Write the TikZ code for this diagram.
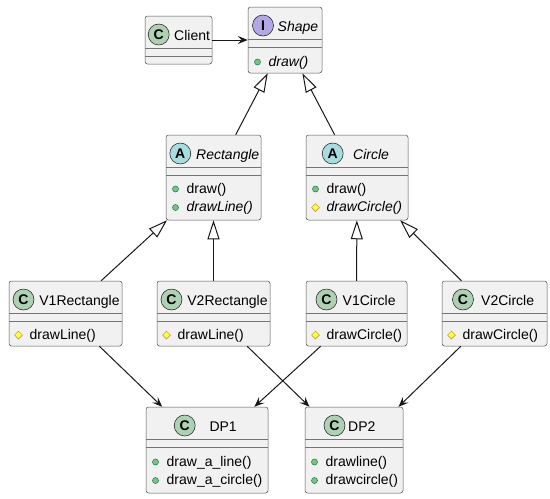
\documentclass[tikz,border=0pt]{standalone}
\usepackage{fontspec}
\setmainfont{Liberation Sans}
\usetikzlibrary{arrows.meta, shapes.geometric}

\definecolor{linec}{HTML}{181818}
\definecolor{boxc}{HTML}{F1F1F1}
\definecolor{cfill}{HTML}{ADD1B2}
\definecolor{afill}{HTML}{A9DCDF}
\definecolor{ifill}{HTML}{B4A7E5}
\definecolor{pubfill}{HTML}{84BE84}
\definecolor{publine}{HTML}{038048}
\definecolor{protfill}{HTML}{FFFF44}
\definecolor{protline}{HTML}{B38D22}

\tikzset{
  classbox/.style={draw=linec!75, fill=boxc, line width=.5pt, rounded corners=2.5pt, inner sep=0pt},
  sepline/.style={draw=linec!60, line width=.5pt},
  icon/.style={circle, draw=linec, line width=.5pt, minimum size=21pt, inner sep=0pt,
    font=\fontsize{14}{14}\selectfont\bfseries},
  cicon/.style={icon, fill=cfill, node contents={C}},
  aicon/.style={icon, fill=afill, node contents={A}},
  iicon/.style={icon, fill=ifill, node contents={I}},
  classname/.style={inner sep=0pt, font=\fontsize{14}{16}\selectfont},
  membertext/.style={inner sep=0pt, font=\fontsize{14}{16}\selectfont},
  pub/.style={circle, draw=publine, fill=pubfill, minimum size=6pt, inner sep=0pt, line width=.5pt},
  prot/.style={diamond, draw=protline, fill=protfill, minimum size=8pt, inner sep=0pt, line width=.5pt},
  assoc/.style={draw=linec, line width=1pt, -{Stealth[length=10pt,width=8pt,inset=4pt]}},
  inherit/.style={draw=linec, line width=1pt, -{Triangle[length=19pt,width=12pt,fill=white]}},
}

% #1 id, #2-#5 left top right bottom, #6 icon, #7 icon x, #8 name x, #9 name
\newcommand{\umlclass}[9]{%
  \node[classbox, minimum width={#4-#2}, minimum height={#5-#3}] (#1) at ({(#2+#4)/2},{(#3+#5)/2}) {};
  \draw[sepline] (#2,#3+32) -- (#4,#3+32);
  \draw[sepline] (#2,#3+40) -- (#4,#3+40);
  \node (#1-icon) at (#7,#3+18.5) [#6];
  \node[classname, anchor=base west] (#1-name) at (#8,#3+24) {#9};
}
% #1 id, #2 pub/prot, #3 box left, #4 row y, #5 text
\newcommand{\umlmember}[5]{%
  \node[#2] (#1-mark) at (#3+9.5,#4) {};
  \node[membertext, anchor=base west] (#1) at (#3+20.5,#4+4) {#5};
}

\begin{document}
\begin{tikzpicture}[x=1pt, y=-1pt]
\useasboundingbox (0,0) rectangle (550,499);

\umlclass{client}{145}{16}{212}{64}{cicon}{158.7}{174}{Client}
\umlclass{shape}{248}{7}{322}{73}{iicon}{263}{277.5}{\itshape Shape}
\umlmember{shape-draw}{pub}{248}{62}{\itshape draw()}

\umlclass{rectangle}{166}{135}{261}{220}{aicon}{180.3}{196}{\itshape Rectangle}
\umlmember{rectangle-draw}{pub}{166}{189}{draw()}
\umlmember{rectangle-line}{pub}{166}{207.5}{\itshape drawLine()}
\umlclass{circle}{306}{135}{408}{220}{aicon}{332.7}{353}{\itshape Circle}
\umlmember{circle-draw}{pub}{306}{189}{draw()}
\umlmember{circle-circ}{prot}{306}{207.5}{\itshape drawCircle()}

\umlclass{v1rect}{9}{281}{122}{346}{cicon}{23.5}{39.2}{V1Rectangle}
\umlmember{v1rect-line}{prot}{9}{335}{drawLine()}
\umlclass{v2rect}{157}{281}{270}{346}{cicon}{171.5}{187.2}{V2Rectangle}
\umlmember{v2rect-line}{prot}{157}{335}{drawLine()}
\umlclass{v1circle}{306}{281}{407}{346}{cicon}{326.5}{342.5}{V1Circle}
\umlmember{v1circle-circ}{prot}{306}{335}{drawCircle()}
\umlclass{v2circle}{442}{281}{547}{346}{cicon}{463}{481}{V2Circle}
\umlmember{v2circle-circ}{prot}{442}{335}{drawCircle()}

\umlclass{dp1}{146}{407}{268}{493}{cicon}{184.7}{209.3}{DP1}
\umlmember{dp1-line}{pub}{146}{462}{draw\_a\_line()}
\umlmember{dp1-circ}{pub}{146}{480.5}{draw\_a\_circle()}
\umlclass{dp2}{305}{407}{403}{493}{cicon}{334.5}{348}{DP2}
\umlmember{dp2-line}{pub}{305}{462}{drawline()}
\umlmember{dp2-circ}{pub}{305}{480.5}{drawcircle()}

\draw[assoc] (client) -- (shape);
\draw[inherit] (rectangle) -- (shape);
\draw[inherit] (circle) -- (shape);
\draw[inherit] (v1rect) -- (rectangle);
\draw[inherit] (v2rect) -- (rectangle);
\draw[inherit] (v1circle) -- (circle);
\draw[inherit] (v2circle) -- (circle);
\draw[assoc] (v1rect) -- (dp1);
\draw[assoc] (v2rect) -- (dp2);
\draw[assoc] (v1circle) -- (dp1);
\draw[assoc] (v2circle) -- (dp2);
\end{tikzpicture}
\end{document}
